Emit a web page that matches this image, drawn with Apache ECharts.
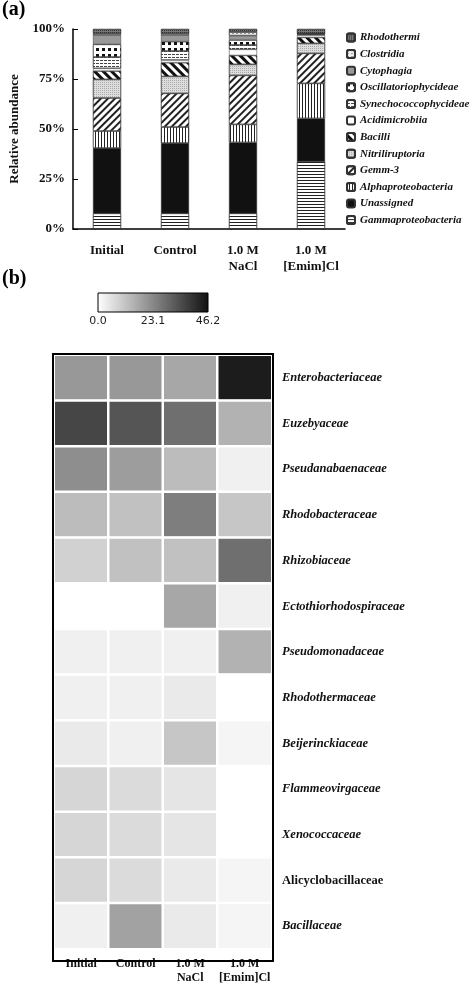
<!DOCTYPE html>
<html><head><meta charset="utf-8">
<script src="https://cdn.jsdelivr.net/npm/echarts@6/dist/echarts.min.js"></script>
<style>body{margin:0;background:#fff}#c{width:474px;height:985px}</style>
</head><body><div id="c"></div>
<script>
var samples = ['Initial', 'Control', '1.0 M\nNaCl', '1.0 M\n[Emim]Cl'];
var classes = ['Gammaproteobacteria', 'Unassigned', 'Alphaproteobacteria', 'Gemm-3', 'Nitriliruptoria',
  'Bacilli', 'Acidimicrobiia', 'Synechococcophycideae', 'Oscillatoriophycideae', 'Cytophagia', 'Clostridia', 'Rhodothermi'];
// relative abundance (%) per class, per sample
var abundance = [
  [7.8, 7.8, 7.8, 33.8],
  [32.7, 35.2, 35.5, 21.5],
  [8.5, 8.0, 9.0, 17.5],
  [16.5, 16.8, 24.5, 15.0],
  [9.3, 8.5, 5.5, 5.0],
  [4.2, 6.9, 4.5, 3.0],
  [1.3, 1.3, 3.0, 1.2],
  [5.7, 4.5, 2.2, 0.3],
  [6.3, 4.7, 2.5, 0.5],
  [4.7, 3.3, 2.2, 0],
  [0.8, 0.8, 1.8, 0],
  [2.2, 2.2, 1.5, 2.2]
];
var families = ['Enterobacteriaceae', 'Euzebyaceae', 'Pseudanabaenaceae', 'Rhodobacteraceae', 'Rhizobiaceae',
  'Ectothiorhodospiraceae', 'Pseudomonadaceae', 'Rhodothermaceae', 'Beijerinckiaceae', 'Flammeovirgaceae',
  'Xenococcaceae', 'Alicyclobacillaceae', 'Bacillaceae'];
var heat = [
  [20, 20, 17, 44],
  [36, 33, 28, 15],
  [22, 19, 13, 3],
  [13, 12, 25, 11],
  [9, 12, 12, 28],
  [0, 0, 17, 3],
  [3, 3, 3, 15],
  [3, 3, 4, 0],
  [4, 3, 11, 2],
  [8, 7, 5, 0],
  [8, 7, 5, 0],
  [8, 7, 4, 2],
  [3, 18, 4, 2]
];
var scaleTicks = [0.0, 23.1, 46.2];

var hLines = {color: '#222', dashArrayX: [[1, 0]], dashArrayY: [1, 2], symbolSize: 1};
var styles = [
  {color: '#fff', decal: hLines},
  {color: '#111'},
  {color: '#fff', decal: {color: '#222', dashArrayX: [[1, 0]], dashArrayY: [1, 2], rotation: Math.PI / 2, symbolSize: 1}},
  {color: '#fff', decal: {color: '#222', dashArrayX: [[1, 0]], dashArrayY: [2, 3], rotation: -Math.PI / 4, symbolSize: 1}},
  {color: '#ddd', decal: {color: '#aaa', dashArrayX: [1, 1], dashArrayY: [1, 1], symbolSize: 1}},
  {color: '#fff', decal: {color: '#111', dashArrayX: [[1, 0]], dashArrayY: [3, 3], rotation: Math.PI / 4, symbolSize: 1}},
  {color: '#fff'},
  {color: '#fff', decal: {color: '#444', dashArrayX: [[3, 1]], dashArrayY: [1, 2], symbolSize: 1}},
  {color: '#fff', decal: {color: '#111', dashArrayX: [3, 3], dashArrayY: [3, 3], symbol: 'rect', symbolSize: 1}},
  {color: '#999'},
  {color: '#eee', decal: {color: '#999', dashArrayX: [[2, 2]], dashArrayY: [1, 2], symbolSize: 1}},
  {color: '#777', decal: {color: '#333', dashArrayX: [1, 1], dashArrayY: [1, 1], symbolSize: 1}}
];

var font = 'Liberation Serif';
var barSeries = classes.map(function (name, i) {
  return {
    name: name, type: 'bar', stack: 'a', xAxisIndex: 0, yAxisIndex: 0, barWidth: 28,
    data: abundance[i],
    itemStyle: {color: styles[i].color, decal: styles[i].decal, borderColor: '#333', borderWidth: 0.5}
  };
});

var heatData = [];
heat.forEach(function (row, r) {
  row.forEach(function (v, c) { heatData.push([c, r, v]); });
});

var graphics = [
  {type: 'text', left: 2, top: 0, style: {text: '(a)', font: 'bold 20px ' + font}},
  {type: 'text', left: 2, top: 269, style: {text: '(b)', font: 'bold 20px ' + font}},
  {type: 'rect', shape: {x: 53, y: 354, width: 220, height: 607}, style: {fill: 'none', stroke: '#000', lineWidth: 2}, z: 10},
  {type: 'rect', shape: {x: 98, y: 293, width: 110, height: 19}, z: 10,
    style: {stroke: '#000', lineWidth: 1, fill: new echarts.graphic.LinearGradient(0, 0, 1, 0,
      [{offset: 0, color: '#ffffff'}, {offset: 1, color: '#111111'}])}}
].concat(scaleTicks.map(function (t, i) {
  return {type: 'text', x: 98 + i * 55, y: 316, style: {text: t.toFixed(1), align: 'center', font: '11px DejaVu Sans', fill: '#222'}};
}));

var chart = echarts.init(document.getElementById('c'));
chart.setOption({
  animation: false,
  textStyle: {fontFamily: font},
  graphic: graphics,
  legend: {
    data: classes.slice().reverse(), orient: 'vertical', left: 341, top: 27,
    itemWidth: 8, itemHeight: 8, itemGap: 5.6,
    textStyle: {fontFamily: font, fontSize: 11, fontWeight: 'bold', fontStyle: 'italic', color: '#111'}
  },
  grid: [
    {left: 73, top: 29, width: 272, height: 200},
    {left: 54, top: 355, width: 218, height: 605}
  ],
  xAxis: [
    {type: 'category', gridIndex: 0, data: samples,
      axisLine: {lineStyle: {color: '#000', width: 1.5}}, axisTick: {show: false},
      axisLabel: {interval: 0, color: '#111', fontWeight: 'bold', fontSize: 13, margin: 14, lineHeight: 16}},
    {type: 'category', gridIndex: 1, data: samples,
      axisLine: {show: false}, axisTick: {show: false},
      axisLabel: {interval: 0, color: '#111', fontWeight: 'bold', fontSize: 12, margin: 8, lineHeight: 14}}
  ],
  yAxis: [
    {type: 'value', gridIndex: 0, min: 0, max: 100, interval: 25,
      name: 'Relative abundance', nameLocation: 'middle', nameGap: 48, nameRotate: 90,
      nameTextStyle: {fontWeight: 'bold', fontSize: 13, color: '#111'},
      axisLine: {show: true, lineStyle: {color: '#000', width: 1.5}}, axisTick: {show: true, inside: true},
      splitLine: {show: false},
      axisLabel: {formatter: '{value}%', color: '#111', fontWeight: 'bold', fontSize: 13}},
    {type: 'category', gridIndex: 1, data: families, inverse: true, position: 'right',
      axisLine: {show: false}, axisTick: {show: false},
      axisLabel: {margin: 10, color: '#111', fontSize: 12.5,
        formatter: function (v) { return v === 'Alicyclobacillaceae' ? '{n|' + v + '}' : '{i|' + v + '}'; },
        rich: {i: {fontStyle: 'italic', fontWeight: 'bold', fontSize: 12.5, fontFamily: font},
               n: {fontWeight: 'bold', fontSize: 12.5, fontFamily: font}}}}
  ],
  visualMap: {
    type: 'continuous', min: 0, max: 46.2, seriesIndex: classes.length, show: false,
    inRange: {color: ['#ffffff', '#111111']}
  },
  series: barSeries.concat([{
    type: 'heatmap', xAxisIndex: 1, yAxisIndex: 1, data: heatData,
    itemStyle: {borderColor: '#fff', borderWidth: 2.5}
  }])
});
</script></body></html>
